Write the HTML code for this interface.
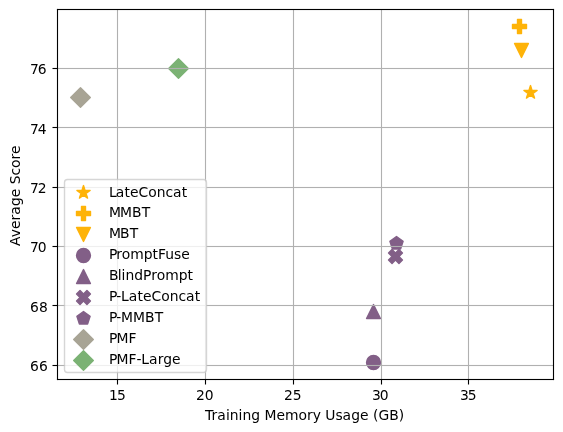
<!DOCTYPE html>
<html lang="en">
<head>
<meta charset="utf-8">
<title>Training Memory Usage vs Average Score</title>
<style>
html,body{margin:0;padding:0;background:#fff;}
body{width:563px;height:432px;overflow:hidden;}
svg{display:block;}
svg text{font-family:"DejaVu Sans","Liberation Sans",sans-serif;font-size:13.889px;fill:#000;}
.mk path{stroke-width:1.389;stroke-linejoin:round;}
</style>
</head>
<body>
<svg width="563" height="432" viewBox="0 0 563 432">
<rect x="0" y="0" width="563" height="432" fill="#ffffff"/>
<g class="mk">
<path d="M 530.5 85.556 L 528.941 90.354 L 523.895 90.354 L 527.977 93.32 L 526.418 98.118 L 530.5 95.153 L 534.582 98.118 L 533.023 93.32 L 537.105 90.354 L 532.059 90.354 Z" fill="#feb308" stroke="#feb308"/>
<path d="M 517.5 33.5 L 521.5 33.5 L 521.5 28.5 L 526.5 28.5 L 526.5 24.5 L 521.5 24.5 L 521.5 19.5 L 517.5 19.5 L 517.5 24.5 L 512.5 24.5 L 512.5 28.5 L 517.5 28.5 Z" fill="#feb308" stroke="#feb308"/>
<path d="M 521.5 57.444 L 528.444 43.556 L 514.556 43.556 Z" fill="#feb308" stroke="#feb308"/>
<path d="M 373.5 369.444 C 375.342 369.444 377.108 368.713 378.41 367.41 C 379.713 366.108 380.444 364.342 380.444 362.5 C 380.444 360.658 379.713 358.892 378.41 357.59 C 377.108 356.287 375.342 355.556 373.5 355.556 C 371.658 355.556 369.892 356.287 368.59 357.59 C 367.287 358.892 366.556 360.658 366.556 362.5 C 366.556 364.342 367.287 366.108 368.59 367.41 C 369.892 368.713 371.658 369.444 373.5 369.444 Z" fill="#825f87" stroke="#825f87"/>
<path d="M 373.5 304.556 L 366.556 318.444 L 380.444 318.444 Z" fill="#825f87" stroke="#825f87"/>
<path d="M 392.028 263.444 L 395.5 259.972 L 398.972 263.444 L 402.444 259.972 L 398.972 256.5 L 402.444 253.028 L 398.972 249.556 L 395.5 253.028 L 392.028 249.556 L 388.556 253.028 L 392.028 256.5 L 388.556 259.972 Z" fill="#825f87" stroke="#825f87"/>
<path d="M 396.5 236.556 L 389.895 241.354 L 392.418 249.118 L 400.582 249.118 L 403.105 241.354 Z" fill="#825f87" stroke="#825f87"/>
<path d="M 80.5 107.321 L 90.321 97.5 L 80.5 87.679 L 70.679 97.5 Z" fill="#a8a495" stroke="#a8a495"/>
<path d="M 178.5 78.321 L 188.321 68.5 L 178.5 58.679 L 168.679 68.5 Z" fill="#7bb274" stroke="#7bb274"/>
</g>
<g class="grid" fill="#b0b0b0">
<rect x="116.944" y="9.5" width="1.111" height="370"/>
<rect x="204.944" y="9.5" width="1.111" height="370"/>
<rect x="292.944" y="9.5" width="1.111" height="370"/>
<rect x="380.944" y="9.5" width="1.111" height="370"/>
<rect x="467.944" y="9.5" width="1.111" height="370"/>
<rect x="57.5" y="364.944" width="496" height="1.111"/>
<rect x="57.5" y="304.944" width="496" height="1.111"/>
<rect x="57.5" y="245.944" width="496" height="1.111"/>
<rect x="57.5" y="186.944" width="496" height="1.111"/>
<rect x="57.5" y="126.944" width="496" height="1.111"/>
<rect x="57.5" y="67.944" width="496" height="1.111"/>
</g>
<g class="ticks" fill="#000000">
<rect x="116.944" y="379.5" width="1.111" height="5"/>
<rect x="204.944" y="379.5" width="1.111" height="5"/>
<rect x="292.944" y="379.5" width="1.111" height="5"/>
<rect x="380.944" y="379.5" width="1.111" height="5"/>
<rect x="467.944" y="379.5" width="1.111" height="5"/>
<rect x="52.5" y="364.944" width="5" height="1.111"/>
<rect x="52.5" y="304.944" width="5" height="1.111"/>
<rect x="52.5" y="245.944" width="5" height="1.111"/>
<rect x="52.5" y="186.944" width="5" height="1.111"/>
<rect x="52.5" y="126.944" width="5" height="1.111"/>
<rect x="52.5" y="67.944" width="5" height="1.111"/>
</g>
<g class="spines" fill="#000000">
<rect x="56.944" y="8.944" width="1.111" height="371.111"/>
<rect x="552.944" y="8.944" width="1.111" height="371.111"/>
<rect x="56.944" y="378.944" width="497.111" height="1.111"/>
<rect x="56.944" y="8.944" width="497.111" height="1.111"/>
</g>
<g class="axis-labels">
<text x="109 116.875" y="400">15</text>
<text x="196 204.75" y="400">20</text>
<text x="284 292.75" y="400">25</text>
<text x="372 379.75" y="400">30</text>
<text x="460 467.75" y="400">35</text>
<text x="205 211.5 217.25 225.875 229.75 238.5 242.375 251.125 260 264.375 276.375 284.875 298.375 306.875 312.625 320.875 325.25 335.375 342.5 351.125 360 368.5 372.875 378.375 389.125 398.75" y="420">Training Memory Usage (GB)</text>
<text x="30 38.875" y="371">66</text>
<text x="30 38.875" y="312">68</text>
<text x="30 37.75" y="252">70</text>
<text x="30 37.75" y="193">72</text>
<text x="30 37.75" y="134">74</text>
<text x="30 37.75" y="74">76</text>
<text transform="translate(20,245.972) rotate(-90)" x="0 8.75 17 25.5 31.25 39.875 48.75 57.25 61.625 70.375 78 86.5 92" y="0">Average Score</text>
</g>
<g class="legend">
<path d="M 67.5 372.5 L 203.5 372.5 Q 206.5 372.5 206.5 369.5 L 206.5 182.5 Q 206.5 179.5 203.5 179.5 L 67.5 179.5 Q 64.5 179.5 64.5 182.5 L 64.5 369.5 Q 64.5 372.5 67.5 372.5 Z" fill="#ffffff" stroke="#cccccc" stroke-width="1.389" stroke-linejoin="miter" opacity="0.8"/>
<g class="mk">
<path d="M 83.5 185.556 L 81.941 190.354 L 76.895 190.354 L 80.977 193.32 L 79.418 198.118 L 83.5 195.153 L 87.582 198.118 L 86.023 193.32 L 90.105 190.354 L 85.059 190.354 Z" fill="#feb308" stroke="#feb308"/>
<path d="M 81.5 220.5 L 85.5 220.5 L 85.5 215.5 L 90.5 215.5 L 90.5 211.5 L 85.5 211.5 L 85.5 206.5 L 81.5 206.5 L 81.5 211.5 L 76.5 211.5 L 76.5 215.5 L 81.5 215.5 Z" fill="#feb308" stroke="#feb308"/>
<path d="M 83.5 241.444 L 90.444 227.556 L 76.556 227.556 Z" fill="#feb308" stroke="#feb308"/>
<path d="M 83.5 262.444 C 85.342 262.444 87.108 261.713 88.41 260.41 C 89.713 259.108 90.444 257.342 90.444 255.5 C 90.444 253.658 89.713 251.892 88.41 250.59 C 87.108 249.287 85.342 248.556 83.5 248.556 C 81.658 248.556 79.892 249.287 78.59 250.59 C 77.287 251.892 76.556 253.658 76.556 255.5 C 76.556 257.342 77.287 259.108 78.59 260.41 C 79.892 261.713 81.658 262.444 83.5 262.444 Z" fill="#825f87" stroke="#825f87"/>
<path d="M 83.5 269.556 L 76.556 283.444 L 90.444 283.444 Z" fill="#825f87" stroke="#825f87"/>
<path d="M 80.028 304.444 L 83.5 300.972 L 86.972 304.444 L 90.444 300.972 L 86.972 297.5 L 90.444 294.028 L 86.972 290.556 L 83.5 294.028 L 80.028 290.556 L 76.556 294.028 L 80.028 297.5 L 76.556 300.972 Z" fill="#825f87" stroke="#825f87"/>
<path d="M 83.5 311.556 L 76.895 316.354 L 79.418 324.118 L 87.582 324.118 L 90.105 316.354 Z" fill="#825f87" stroke="#825f87"/>
<path d="M 83.5 349.321 L 93.321 339.5 L 83.5 329.679 L 73.679 339.5 Z" fill="#a8a495" stroke="#a8a495"/>
<path d="M 83.5 370.321 L 93.321 360.5 L 83.5 350.679 L 73.679 360.5 Z" fill="#7bb274" stroke="#7bb274"/>
</g>
<text x="109 115.75 124.375 129.875 138.375 148.125 156.625 165.375 173 181.625" y="197">LateConcat</text>
<text x="109 120 132 141.625" y="217">MMBT</text>
<text x="109 120 129.625" y="238">MBT</text>
<text x="109 116.125 121.625 130.125 143.625 152.5 158 165.25 174 181.125" y="259">PromptFuse</text>
<text x="109 117.625 121.5 125.375 134.125 143 151.125 156.625 165.125 178.625 187.5" y="280">BlindPrompt</text>
<text x="109 116.125 121 128.75 137.375 142.875 151.375 161.125 169.625 178.375 186 194.625" y="301">P-LateConcat</text>
<text x="109 116.125 121 133 145 154.625" y="322">P-MMBT</text>
<text x="109 116.375 128.375" y="343">PMF</text>
<text x="109 116.375 128.375 136.375 141.25 149 157.625 163.125 172" y="364">PMF-Large</text>
</g>
</svg>
</body>
</html>
